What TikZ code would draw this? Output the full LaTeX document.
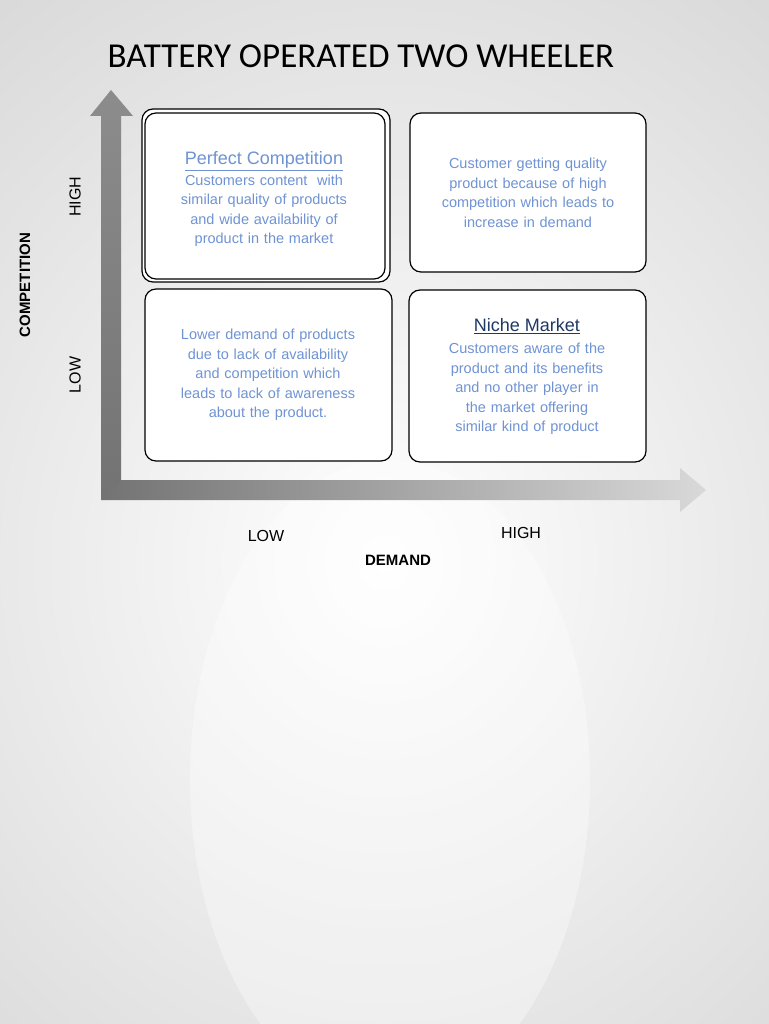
\documentclass[tikz,border=0pt]{standalone}
\usepackage{fontspec}
\setmainfont{Liberation Sans}
\newfontfamily\calfont{Carlito}
\usetikzlibrary{shapes.arrows}
\definecolor{txtb}{HTML}{6F93D3}
\definecolor{dkb}{HTML}{1F3864}
\begin{document}
\begin{tikzpicture}[x=1pt,y=-1pt,
 box/.style={draw=black,line width=1.2pt,rounded corners=11pt,fill=white},
 bt/.style={text=txtb,font=\fontsize{14.5}{19.5}\selectfont,align=center,text width=200pt},
 lab/.style={font=\fontsize{16}{18}\selectfont}]
\useasboundingbox (0,0) rectangle (768,1024);
\shade[inner color=white,outer color=black!18] (-400,-300) rectangle (1168,1424);
\fill[white,opacity=0.35] (390,780) ellipse (200 and 320);
\node[font=\calfont\fontsize{35}{40}\selectfont] (title) at (361,56) {BATTERY OPERATED TWO WHEELER};
% axes
\shade[left color=black!55,right color=black!15] (101,480) -- (680,480) -- (680,468) -- (706,490) -- (680,512) -- (680,500) -- (101,500) -- cycle;
\shade[bottom color=black!55,top color=black!45] (101,500) -- (101,116) -- (90,116) -- (111,90) -- (133,116) -- (121,116) -- (121,480) -- cycle;
% boxes
\draw[box] (142,109) rectangle (390,282);
\draw[box] (145,113) rectangle (385,279);
\draw[box] (410,113) rectangle (646,272);
\draw[box] (145,289) rectangle (392,461);
\draw[box] (409,290) rectangle (646,462);
\node[text=txtb,font=\fontsize{18}{20}\selectfont] (pc) at (264,161) {\underline{Perfect Competition}};
\node[bt] (pct) at (264,211) {Customers content\ \ with\\similar quality of products\\ and wide availability of\\product in the market};
\node[bt] (tr) at (528,193) {Customer getting quality\\product because of high\\competition which leads to\\increase in demand};
\node[bt] (bl) at (268,375) {Lower demand of products\\due to lack of availability\\and competition which\\leads to lack of awareness\\about the product.};
\node[text=dkb,font=\fontsize{18}{20}\selectfont] (nm) at (527,326) {\underline{Niche Market}};
\node[bt] (nmt) at (527,389) {Customers aware of\ the\\product\ and its benefits\\and no other player in\\the market offering\\similar kind of product};
% labels
\node[lab,rotate=90] (hi) at (75,197) {HIGH};
\node[lab,rotate=90] (lo) at (75,375) {LOW};
\node[lab,rotate=90,font=\bfseries\fontsize{15}{18}\selectfont] (comp) at (25,285) {COMPETITION};
\node[lab] (lox) at (266,536) {LOW};
\node[lab] (hix) at (521,533) {HIGH};
\node[font=\bfseries\fontsize{15}{18}\selectfont] (dem) at (398,560) {DEMAND};
\end{tikzpicture}
\end{document}
